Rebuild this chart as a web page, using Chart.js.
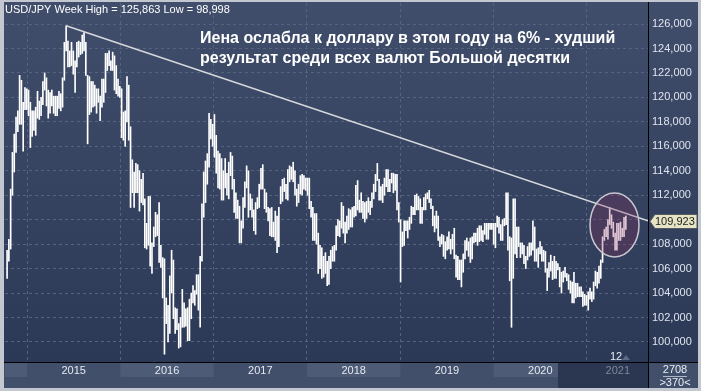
<!DOCTYPE html>
<html>
<head>
<meta charset="utf-8">
<script src="https://cdn.jsdelivr.net/npm/chart.js@4.4.1/dist/chart.umd.min.js"></script>
<style>
  html, body { margin: 0; padding: 0; background: #c3c7cf; }
  #wrap { width: 701px; height: 391px; }
</style>
</head>
<body>
<div id="wrap"><canvas id="usdjpyChart" width="701" height="391"></canvas></div>
<script>
// weekly bars, [high, low], first week starts Mon 13 Oct 2014
const firstWeek = Date.UTC(2014, 9, 13);

const w2014 = [[107.5,105.2],[108.4,106.6],[112.5,107.6],[115.5,112.0],[117.0,113.9],[118.4,115.5],
  [118.9,117.2],[121.8,117.8],[121.4,117.8],[119.6,115.6],[120.8,119.0],[120.7,119.0]];

const w2015 = [[120.6,118.5],[119.6,115.9],[118.9,116.8],[118.9,117.3],[119.2,116.9],[120.5,118.3],
  [119.7,118.2],[120.0,118.5],[121.3,119.4],[122.0,120.6],[121.6,119.3],[120.6,118.3],[120.4,118.7],
  [120.6,119.3],[120.1,118.7],[120.1,118.5],[120.1,118.5],[120.5,119.1],[120.3,118.9],[121.6,119.2],
  [124.5,121.4],[125.86,123.8],[124.6,122.5],[123.8,122.5],[124.5,122.6],[123.8,121.9],[123.0,120.4],
  [124.5,122.5],[124.6,123.3],[124.5,123.5],[125.1,123.6],[125.3,123.8],[124.5,121.8],[121.8,116.2],
  [121.7,118.6],[121.3,118.8],[121.3,119.2],[121.0,119.3],[120.7,118.7],[120.7,119.6],[120.1,118.1],
  [121.5,119.2],[121.5,119.6],[123.6,120.4],[123.6,122.2],[123.8,122.6],[123.0,122.2],[123.7,122.2],
  [123.4,120.6],[122.6,120.3],[121.5,120.1],[120.9,120.0]];

const w2016 = [[120.7,116.7],[118.8,116.5],[118.9,116.0],[121.7,118.0],[121.0,116.5],[117.6,111.0],
  [114.9,112.2],[113.9,111.0],[114.6,112.2],[114.5,112.2],[114.0,110.7],[113.3,111.4],[113.8,111.2],
  [111.7,107.7],[109.7,107.6],[111.9,107.9],[111.9,106.2],[108.1,105.6],[109.4,107.8],[110.6,108.6],
  [110.4,108.7],[111.4,106.5],[107.9,106.1],[106.9,103.6],[106.8,99.0],[103.6,101.5],[103.0,100.0],
  [105.4,100.7],[107.5,104.0],[106.7,101.9],[102.8,100.7],[102.7,101.0],[101.5,99.5],[102.0,99.6],
  [104.3,101.2],[103.2,101.2],[102.7,101.3],[102.8,100.1],[103.5,100.1],[104.0,101.9],[104.6,103.2],
  [104.2,103.0],[105.5,103.9],[105.5,102.6],[107.0,101.2],[111.3,106.6],[113.9,110.2],[114.8,111.4],
  [115.4,112.9],[118.7,114.3],[118.2,116.6],[117.8,116.0]];

const w2017 = [[118.6,115.1],[116.9,113.8],[115.6,112.6],[115.4,112.5],[115.0,111.6],[114.0,111.6],
  [115.0,112.6],[113.8,112.0],[114.7,111.7],[115.5,113.6],[115.2,112.5],[113.3,110.6],[112.2,110.1],
  [111.6,110.1],[111.1,108.1],[109.9,108.1],[111.8,109.3],[113.1,111.0],[114.4,112.6],[114.0,110.2],
  [112.1,110.8],[111.7,110.2],[110.8,109.1],[111.4,108.8],[111.8,110.9],[112.9,111.0],[114.2,112.5],
  [114.5,112.5],[112.5,110.9],[112.2,110.6],[111.0,109.9],[110.9,108.7],[111.0,108.6],[109.8,108.6],
  [110.7,108.3],[110.3,107.3],[111.0,107.8],[112.7,111.3],[113.3,111.5],[113.4,112.3],[112.9,111.7],
  [114.1,111.6],[114.4,113.1],[114.3,113.3],[114.7,113.1],[114.0,112.0],[112.5,111.1],[112.9,111.4],
  [113.6,112.1],[113.7,112.0],[113.6,112.5],[113.4,112.4]];

const w2018 = [[113.4,112.0],[113.4,110.9],[111.5,110.2],[111.0,108.3],[110.5,108.3],[110.5,108.0],
  [108.9,105.6],[107.9,106.0],[107.7,105.2],[107.0,105.3],[107.3,105.6],[106.6,104.6],[107.0,104.7],
  [107.5,106.0],[107.8,106.6],[107.9,106.6],[109.5,107.5],[110.0,108.7],[109.9,108.6],[111.4,109.3],
  [111.1,108.9],[109.8,108.1],[110.3,108.9],[110.9,109.2],[110.8,109.4],[111.0,109.4],[111.1,110.2],
  [112.8,110.3],[113.2,110.8],[111.6,110.6],[112.2,110.6],[111.5,110.1],[111.4,109.8],[111.5,110.1],
  [111.8,110.6],[111.5,110.4],[112.2,111.0],[112.9,111.7],[113.7,112.3],[114.6,113.2],[113.3,111.6],
  [112.7,111.6],[112.9,111.4],[113.4,112.0],[114.1,112.7],[114.1,112.3],[113.3,112.3],[113.8,113.0],
  [113.8,112.2],[113.7,112.4],[113.7,110.8],[111.4,109.8]];

const w2019 = [[110.0,104.9],[109.0,107.8],[109.9,107.9],[109.9,109.1],[109.9,108.5],[110.2,109.2],
  [111.1,109.7],[111.0,110.4],[112.0,110.4],[112.1,110.8],[111.9,110.8],[111.7,109.7],[111.0,109.7],
  [111.8,110.8],[112.1,110.8],[112.2,111.7],[112.4,111.4],[111.7,110.9],[111.1,109.5],[110.3,109.0],
  [110.7,109.3],[110.3,108.3],[108.6,107.8],[108.8,108.0],[108.7,107.0],[108.2,106.8],[108.6,107.5],
  [109.0,107.6],[108.4,107.2],[108.8,107.6],[109.3,106.8],[107.1,105.3],[107.0,105.1],[106.7,105.1],
  [106.7,104.5],[107.2,105.7],[108.3,106.8],[108.5,107.5],[108.2,107.0],[108.5,106.5],[108.6,106.8],
  [108.9,108.1],[108.9,108.2],[109.3,107.9],[109.5,108.2],[109.5,108.3],[109.1,108.2],[109.7,108.8],
  [109.7,108.4],[109.7,108.4],[109.7,109.2],[109.7,109.2]];

const w2020 = [[109.7,108.0],[109.7,107.7],[110.3,109.4],[110.2,108.9],[109.6,108.3],[110.0,108.3],
  [110.1,109.5],[112.2,109.6],[112.2,107.5],[108.6,105.0],[108.5,101.2],[111.7,105.2],[111.7,107.2],
  [109.4,106.9],[109.4,107.8],[108.1,106.9],[108.1,107.2],[107.9,106.4],[107.0,106.0],[107.8,106.7],
  [108.1,107.0],[108.1,107.1],[109.9,107.5],[109.4,106.6],[107.6,106.6],[107.7,106.1],[108.2,107.2],
  [107.8,106.6],[107.5,106.6],[107.4,105.7],[106.0,104.2],[106.5,105.3],[107.1,105.8],[106.6,105.1],
  [107.0,105.2],[106.6,105.2],[106.4,105.9],[106.1,104.5],[105.7,104.0],[105.8,104.9],[106.1,105.3],
  [105.6,105.0],[105.5,104.3],[105.0,104.0],[104.9,103.2],[105.7,103.2],[104.8,103.6],[104.8,103.7],
  [104.5,103.7],[104.5,103.7],[104.1,102.9],[103.9,103.0],[103.8,103.0]];

const w2021 = [[104.1,102.6],[104.4,103.5],[104.1,103.3],[104.9,103.5],[105.8,104.6],[105.7,104.4],
  [106.2,104.8],[106.7,105.2],[108.6,106.5],[109.2,108.3],[109.4,108.6],[110.0,108.4],[111.0,109.6],
  [110.4,109.3],[109.8,108.6],[108.9,107.5],[109.7,107.5],[109.7,108.3],[109.8,108.3],[109.3,108.6],
  [110.2,108.6],[110.3,109.2]];

const gridYears = [2015, 2016, 2017, 2018, 2019, 2020, 2021];
const labelYears = [2015.5, 2016.5, 2017.5, 2018.5, 2019.5, 2020.5, 2021.33];
const priceTicks = [100, 102, 104, 106, 108, 110, 112, 114, 116, 118, 120, 122, 124, 126];
const lastPrice = 109.923;
const trendEndPrice = 109.9;
const circleAt = { x: 2021.295, y: 109.57 };

const titleText = 'USD/JPY Week High = 125,863 Low = 98,998';
const noteLines = ['Иена ослабла к доллару в этом году на 6% - худший',
                   'результат среди всех валют Большой десятки'];

const xMin = 2014.764, xMax = 2021.654;
const yMin = 98.36, yMax = 127.72;

const smallFont = "'Liberation Sans Narrow', 'Arial Narrow', 'Liberation Sans', sans-serif";

function fracYear(ms) {
    const y = new Date(ms).getUTCFullYear();
    const a = Date.UTC(y, 0, 1), b = Date.UTC(y + 1, 0, 1);
    return y + (ms - a) / (b - a);
}

const allWeeks = [].concat(w2014, w2015, w2016, w2017, w2018, w2019, w2020, w2021);
const barPoints = allWeeks.map((hl, i) => ({
    x: fracYear(firstWeek + (i * 7 + 2) * 86400000),
    y: [hl[1], hl[0]]
}));

let peak = 0;
allWeeks.forEach((hl, i) => { if (hl[0] > allWeeks[peak][0]) peak = i; });
const trendPoints = [
    { x: barPoints[peak].x, y: allWeeks[peak][0] },
    { x: xMax, y: trendEndPrice }
];

function fmt(v, d) { return v.toFixed(d).replace('.', ','); }

// no extra room for half labels at the ends of the axes
function noAxisPadding(s) {
    s.paddingTop = 0; s.paddingBottom = 0; s.paddingLeft = 0; s.paddingRight = 0;
}

const framePlugin = {
    id: 'frame',
    beforeDraw(chart) {
        const { ctx, chartArea: a, scales: { x } } = chart;
        ctx.save();
        ctx.fillStyle = '#c3c7cf';
        ctx.fillRect(0, 0, chart.width, chart.height);
        const g = ctx.createLinearGradient(0, 2, 0, a.bottom);
        g.addColorStop(0, '#414e6b');
        g.addColorStop(1, '#2c3956');
        ctx.fillStyle = g;
        ctx.fillRect(4, 2, 694, a.bottom - 2);
        // bottom strip
        ctx.fillStyle = '#424f6b';
        ctx.fillRect(4, a.bottom, 694, 388 - a.bottom);
        ctx.fillStyle = '#4d5b77';
        const bands = [xMin, 2015, 2016, 2017, 2018, 2019, 2020, 2021];
        for (let i = 0; i < bands.length - 1; i += 2) {
            const x1 = x.getPixelForValue(bands[i]), x2 = x.getPixelForValue(bands[i + 1]);
            ctx.fillRect(x1, a.bottom + 1, x2 - x1, 14);
        }
        ctx.fillStyle = '#2b3651';
        ctx.fillRect(558, a.bottom + 1, a.right - 558, 388 - a.bottom - 1);
        ctx.restore();
    },
    afterDatasetsDraw(chart) {
        const { ctx, scales: { x, y } } = chart;
        const cx = x.getPixelForValue(circleAt.x), cy = y.getPixelForValue(circleAt.y);
        ctx.save();
        ctx.beginPath();
        ctx.ellipse(cx, cy, 24.5, 32, 0, 0, Math.PI * 2);
        ctx.fillStyle = 'rgba(135,40,90,0.27)';
        ctx.fill();
        ctx.strokeStyle = '#c9c6d0';
        ctx.lineWidth = 1.5;
        ctx.stroke();
        ctx.restore();
    },
    afterDraw(chart) {
        const { ctx, chartArea: a, scales: { y } } = chart;
        ctx.save();
        // separators
        ctx.strokeStyle = '#000';
        ctx.lineWidth = 1;
        ctx.beginPath();
        ctx.moveTo(a.right + 0.5, 2); ctx.lineTo(a.right + 0.5, 388);
        ctx.moveTo(4, a.bottom + 0.5); ctx.lineTo(698, a.bottom + 0.5);
        ctx.stroke();
        // last price callout
        const py = Math.round(y.getPixelForValue(lastPrice)) + 0.5;
        ctx.beginPath();
        ctx.moveTo(a.right + 2, py);
        ctx.lineTo(a.right + 7, py - 7);
        ctx.lineTo(697, py - 7);
        ctx.lineTo(697, py + 7);
        ctx.lineTo(a.right + 7, py + 7);
        ctx.closePath();
        ctx.fillStyle = '#e5e4c4';
        ctx.fill();
        ctx.strokeStyle = '#55585e';
        ctx.stroke();
        ctx.fillStyle = '#1c1c1c';
        ctx.font = '11px ' + smallFont;
        ctx.textBaseline = 'middle';
        ctx.textAlign = 'left';
        ctx.fillText(fmt(lastPrice, 3), a.right + 7, py + 0.5);
        // header
        ctx.fillStyle = '#ffffff';
        ctx.textBaseline = 'alphabetic';
        ctx.fillText(titleText, 5, 13);
        ctx.font = "bold 16px 'Liberation Sans', Arial, sans-serif";
        ctx.fillText(noteLines[0], 200, 43);
        ctx.fillText(noteLines[1], 200, 63);
        // week counter and bottom-right box
        ctx.font = '11px ' + smallFont;
        ctx.fillStyle = '#e8ecf3';
        ctx.fillText('12', 610, 360);
        ctx.fillStyle = '#5e6985';
        ctx.beginPath();
        ctx.moveTo(622, 360); ctx.lineTo(626, 355); ctx.lineTo(630, 360); ctx.closePath();
        ctx.fill();
        ctx.fillStyle = '#e8ecf3';
        ctx.textAlign = 'center';
        ctx.textBaseline = 'middle';
        ctx.fillText('2708', 675, 370);
        ctx.fillText('>370<', 675, 383);
        ctx.strokeStyle = '#aeb6c6';
        ctx.beginPath();
        ctx.moveTo(663, 376.5); ctx.lineTo(687, 376.5);
        ctx.stroke();
        ctx.restore();
    }
};

new Chart(document.getElementById('usdjpyChart'), {
    type: 'bar',
    data: {
        datasets: [{
            type: 'bar',
            data: barPoints,
            backgroundColor: '#ffffff',
            borderWidth: 0,
            barThickness: 1,
            grouped: false,
            order: 2
        }, {
            type: 'line',
            data: trendPoints,
            borderColor: '#d6d8de',
            borderWidth: 1.5,
            pointRadius: 0,
            order: 1
        }]
    },
    options: {
        responsive: false,
        animation: false,
        events: [],
        layout: { padding: { left: 5, top: 3, right: 3, bottom: 3 } },
        plugins: { legend: { display: false }, tooltip: { enabled: false } },
        scales: {
            x: {
                type: 'linear',
                min: xMin,
                max: xMax,
                offset: false,
                afterBuildTicks: s => { s.ticks = gridYears.concat(labelYears).map(v => ({ value: v })); },
                afterFit: s => { s.height = 26; noAxisPadding(s); },
                grid: {
                    offset: false,
                    drawTicks: false,
                    color: c => (c.tick && Number.isInteger(c.tick.value)) ? '#56637f' : 'rgba(0,0,0,0)'
                },
                border: { display: false, dash: [3, 3] },
                ticks: {
                    padding: 2,
                    maxRotation: 0,
                    autoSkip: false,
                    font: { size: 11, family: smallFont },
                    color: c => (c.tick && c.tick.value > 2021) ? '#7d879c' : '#e4e8f0',
                    callback: v => Number.isInteger(v) ? '' : String(Math.floor(v))
                }
            },
            y: {
                position: 'right',
                min: yMin,
                max: yMax,
                afterBuildTicks: s => { s.ticks = priceTicks.map(v => ({ value: v })); },
                afterFit: s => { s.width = 50; noAxisPadding(s); },
                grid: { drawTicks: false, color: '#56637f' },
                border: { display: false, dash: [3, 3] },
                ticks: {
                    padding: 4,
                    font: { size: 11, family: smallFont },
                    color: '#dfe4ee',
                    callback: v => fmt(v, 3)
                }
            }
        }
    },
    plugins: [framePlugin]
});
</script>
</body>
</html>
